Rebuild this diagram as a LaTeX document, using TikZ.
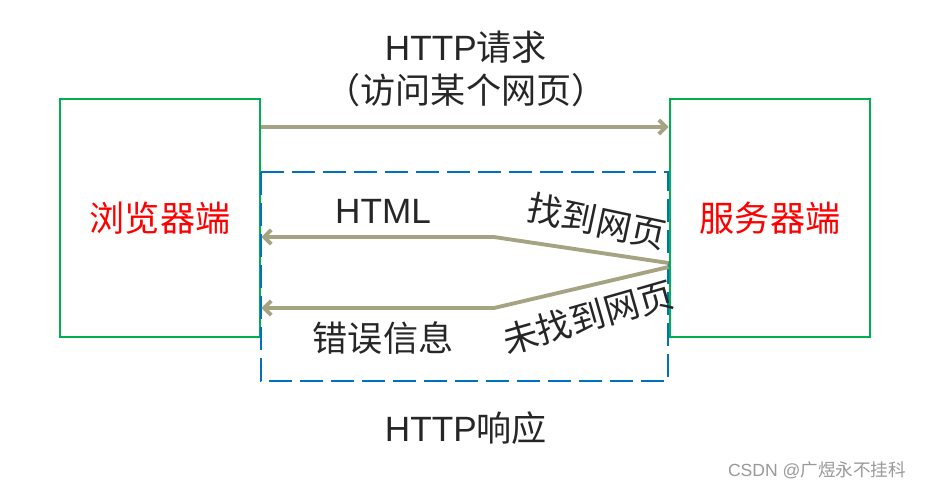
\documentclass[tikz,border=0pt]{standalone}
\usepackage{fontspec}
\setmainfont{Liberation Sans}
\newfontfamily\cjk{Noto Sans CJK SC}
\usetikzlibrary{arrows.meta,positioning}
\definecolor{boxgreen}{HTML}{00B050}
\definecolor{dashblue}{HTML}{0070C0}
\definecolor{flowgray}{HTML}{A6A383}
\definecolor{textdark}{HTML}{262626}

\begin{document}
\begin{tikzpicture}[x=0.03cm,y=-0.03cm,>={Straight Barb[length=6pt,width=12pt]},
  endbox/.style={draw=boxgreen,line width=2.5pt,minimum width=6cm,minimum height=7.14cm,
    text=red,font=\cjk\fontsize{30}{34}\selectfont},
  flow/.style={draw=flowgray,line width=3.3pt,->},
  lbl/.style={text=textdark,font=\fontsize{30}{34}\selectfont,inner sep=0pt}]
  \useasboundingbox (0,0) rectangle (928,491);
  % the two ends
  \node[endbox] (browser) at (160,218) {浏览器端};
  \node[endbox] (server) at (770,218) {服务器端};
  % response frame
  \draw[dashblue,line width=2.5pt,dash pattern=on 0.69cm off 0.24cm] (261,172) rectangle (668,381);
  % request
  \coordinate (reqA) at (browser.east |- 0,127);
  \coordinate (reqB) at (server.west |- 0,127);
  \draw[flow] (reqA) -- (reqB);
  \node[lbl] (reqtxt) at (466,47) {HTTP{\cjk 请求}};
  \node[lbl] (reqsub) at (466,90) {\cjk （访问某个网页）};
  % responses
  \coordinate (okA) at (server.west |- 0,263);
  \coordinate (okK) at (494,237);
  \coordinate (okB) at (browser.east |- okK);
  \coordinate (errA) at (server.west |- 0,267);
  \coordinate (errK) at (494,308);
  \coordinate (errB) at (browser.east |- errK);
  \draw[flow] (okA) -- (okK) -- (okB);
  \draw[flow] (errA) -- (errK) -- (errB);
  \node[lbl] (html) at (383,211) {HTML};
  \node[lbl] (errmsg) at (383,338) {\cjk 错误信息};
  \node[lbl,rotate=-12] (found) at (597,221) {\cjk 找到网页};
  \node[lbl,rotate=16] (notfound) at (588,317) {\cjk 未找到网页};
  \node[lbl] (resptxt) at (466,428) {HTTP{\cjk 响应}};
  % watermark
  \node[text=gray!80,font=\fontsize{15}{18}\selectfont,inner sep=0pt] (mark) at (817,470) {CSDN @{\cjk 广煜永不挂科}};
\end{tikzpicture}
\end{document}
